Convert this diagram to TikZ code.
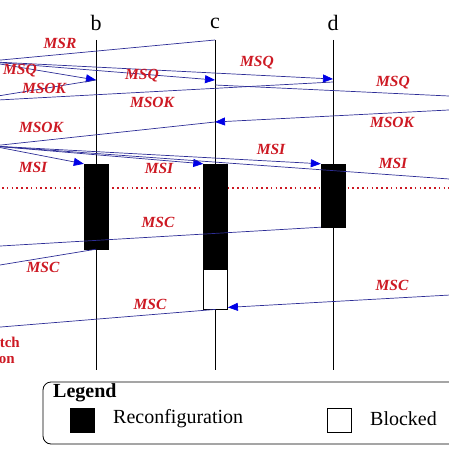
\documentclass[tikz,border=0pt]{standalone}
\usepackage{fontspec}
\setmainfont{Liberation Serif}
\usetikzlibrary{arrows.meta}

\definecolor{msgred}{RGB}{205,25,35}
\definecolor{msgblue}{RGB}{45,45,150}
\definecolor{tipblue}{RGB}{0,0,230}

\tikzset{
  msg/.style={draw=msgblue,line width=0.7pt},
  msgarrow/.style={msg,-{Triangle[length=10pt,width=8pt,color=tipblue]}},
  msglabel/.style={text=msgred,font=\fontsize{15.5}{18}\selectfont\bfseries\itshape,inner sep=0pt},
  lifeline/.style={draw=black,line width=0.8pt},
  reconf/.style={draw=black,fill=black,minimum width=24pt,inner sep=0pt},
  blocked/.style={draw=black,fill=white,line width=0.8pt,minimum width=24pt,inner sep=0pt},
}

\begin{document}
\begin{tikzpicture}[x=1pt,y=-1pt]
  \useasboundingbox (0,0) rectangle (449,449);
  \clip (0,0) rectangle (449,449);

  % lifeline names
  \begin{scope}[every node/.style={font=\fontsize{22}{26}\selectfont}]
    \node (lb) at (96,23)  {b};
    \node (lc) at (215,23) {c};
    \node (ld) at (333,23) {d};
  \end{scope}

  \coordinate (bTop) at (96,40);  \coordinate (bBot) at (96,370);
  \coordinate (cTop) at (215,40); \coordinate (cBot) at (215,370);
  \coordinate (dTop) at (333,40); \coordinate (dBot) at (333,370);

  \draw[lifeline] (bTop) -- (bBot);
  \draw[lifeline] (cTop) -- (cBot);
  \draw[lifeline] (dTop) -- (dBot);

  % switch line
  \coordinate (dotL) at (2,188);
  \coordinate (dotR) at (449,188);
  \draw[msgred,line width=1.3pt,dash pattern=on 1.6pt off 3.2pt] (dotL) -- (dotR);

  % reconfiguration and blocked periods
  \node[reconf,minimum height=85pt]  (bbox) at (96,206.5) {};
  \node[reconf,minimum height=105pt] (cbox) at (215.5,216.5) {};
  \node[blocked,minimum height=40pt] (cblk) at (215.5,289) {};
  \node[reconf,minimum height=63pt]  (dbox) at (333,195.5) {};

  % message points
  \coordinate (aQ)  at (-15,61.5);
  \coordinate (aOK) at (-39,102);
  \coordinate (aI)  at (-8,146);
  \coordinate (aC1) at (-20,247.2);
  \coordinate (aC2) at (-20,268.3);
  \coordinate (aC3) at (-20,328.7);
  \coordinate (bQ)  at (96,80);
  \coordinate (cQ)  at (215,80);
  \coordinate (cE)  at (215,85);
  \coordinate (cOK) at (215,122);
  \coordinate (dQ)  at (333,79);
  \coordinate (dOK) at (333,82);
  \coordinate (eQ)  at (470,97);
  \coordinate (eOK) at (470,108.9);
  \coordinate (eI)  at (470,180.5);
  \coordinate (eC)  at (470,293.9);

  % messages
  \draw[msg]      (aQ) -- (cTop);
  \draw[msgarrow] (aQ) -- (bQ);
  \draw[msgarrow] (aQ) -- (cQ);
  \draw[msgarrow] (aQ) -- (dQ);
  \draw[msg]      (cE) -- (eQ);
  \draw[msg]      (bQ) -- (aOK);
  \draw[msg]      (dOK) -- (aOK);
  \draw[msgarrow] (eOK) -- (cOK);
  \draw[msg]      (cOK) -- (aI);
  \draw[msgarrow] (aI) -- (bbox.north west);
  \draw[msgarrow] (aI) -- (cbox.north west);
  \draw[msgarrow] (aI) -- (dbox.north west);
  \draw[msg]      (aI) -- (eI);
  \draw[msg]      (dbox.south west) -- (aC1);
  \draw[msg]      (bbox.south) -- (aC2);
  \draw[msg]      (cblk.south) -- (aC3);
  \draw[msgarrow] (eC) -- ([yshift=2pt]cblk.south east);

  % message names
  \node[msglabel] (nMSR)  at (60,43)   {MSR};
  \node[msglabel] (nMSQa) at (20,71)   {MSQ};
  \node[msglabel] (nMSQb) at (142,76)  {MSQ};
  \node[msglabel] (nMSQc) at (257,63)  {MSQ};
  \node[msglabel] (nMSQd) at (393,83)  {MSQ};
  \node[msglabel] (nOKa)  at (44,88)   {MSOK};
  \node[msglabel] (nOKb)  at (152,102) {MSOK};
  \node[msglabel] (nOKc)  at (392,122) {MSOK};
  \node[msglabel] (nOKd)  at (41,127)  {MSOK};
  \node[msglabel] (nMSIa) at (33,167)  {MSI};
  \node[msglabel] (nMSIb) at (159,168) {MSI};
  \node[msglabel] (nMSIc) at (271,149) {MSI};
  \node[msglabel] (nMSId) at (393,163) {MSI};
  \node[msglabel] (nMSCa) at (158,222) {MSC};
  \node[msglabel] (nMSCb) at (43,267)  {MSC};
  \node[msglabel] (nMSCc) at (150,304) {MSC};
  \node[msglabel] (nMSCd) at (392,285) {MSC};

  \begin{scope}[every node/.style={text=msgred,font=\fontsize{15}{18}\selectfont\bfseries,inner sep=0pt,anchor=east}]
    \node (sw1) at (20,342) {tch};
    \node (sw2) at (15,360) {on};
  \end{scope}

  % legend
  \node[draw=black,line width=0.8pt,rounded corners=8pt,minimum width=427pt,minimum height=62pt] (legend) at (256.5,413) {};
  \begin{scope}[every node/.style={font=\fontsize{20}{24}\selectfont,inner sep=0pt,anchor=west}]
    \node[font=\fontsize{20}{24}\selectfont\bfseries] (ltitle) at (53,393) {Legend};
    \node (ltext1) at (113,419) {Reconfiguration};
    \node (ltext2) at (370,419) {Blocked};
  \end{scope}
  \node[reconf,minimum size=24pt]  (lkey1) at (82,420)  {};
  \node[blocked,minimum size=24pt] (lkey2) at (339,420) {};
\end{tikzpicture}
\end{document}
